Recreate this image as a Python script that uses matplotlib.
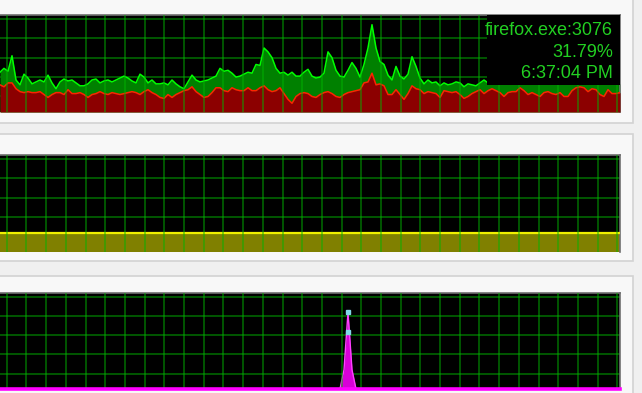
import matplotlib.pyplot as plt
import matplotlib.patches as patches
import numpy as np

# CPU history (percent), one sample every 4 screen pixels
cpu_total = [41, 45, 42, 58, 33, 28, 39, 35, 29, 31, 33, 31, 38, 30, 24, 31,
             34, 32, 33, 30, 27, 27, 29, 33, 34, 30, 32, 33, 31, 33, 35, 37,
             35, 32, 30, 39, 36, 30, 33, 29, 29, 30, 28, 33, 29, 26, 24, 31,
             38, 33, 31, 32, 33, 35, 37, 45, 42, 43, 40, 36, 37, 39, 41, 40,
             49, 48, 66, 62, 56, 45, 40, 41, 38, 41, 37, 37, 41, 44, 37, 35,
             36, 40, 62, 56, 43, 37, 36, 43, 51, 45, 36, 49, 66, 90, 66, 52,
             49, 38, 33, 47, 37, 34, 39, 57, 47, 35, 29, 33, 30, 31, 27, 30,
             28, 29, 31, 30, 26, 29, 28, 27, 30, 33, 30, 31, 30, 29, 31, 30,
             29, 31, 30, 30, 29, 31, 30, 29, 30, 31, 29, 30, 31, 30, 29, 30,
             31, 30, 29, 30, 31, 30, 29, 30, 30, 31, 30, 29]
cpu_kernel = [28, 26, 30, 30, 24, 21, 20, 21, 20, 20, 21, 18, 15, 18, 20, 20,
              18, 23, 19, 19, 20, 18, 15, 18, 19, 21, 19, 18, 20, 19, 18, 19,
              20, 21, 20, 18, 21, 23, 20, 18, 15, 14, 18, 15, 18, 20, 22, 23,
              26, 21, 18, 15, 16, 20, 25, 25, 22, 21, 25, 23, 22, 22, 25, 22,
              22, 25, 27, 23, 21, 22, 25, 19, 13, 9, 16, 19, 20, 19, 16, 15,
              18, 20, 21, 19, 16, 15, 18, 20, 21, 22, 23, 30, 31, 40, 28, 29,
              27, 18, 18, 23, 18, 13, 19, 27, 24, 23, 19, 21, 20, 19, 15, 22,
              21, 20, 21, 18, 14, 16, 19, 21, 23, 19, 22, 24, 22, 20, 16, 20,
              21, 21, 25, 22, 18, 20, 18, 16, 20, 21, 19, 18, 20, 16, 16, 22,
              25, 26, 25, 21, 24, 23, 18, 16, 23, 19, 19, 20]

# private bytes level (percent of graph height)
mem_level = 19.6

# I/O history (percent), a single burst
io_bytes = [0] * 86 + [20, 80, 20] + [0] * 67
io_marks = [80, 59]

proc_name = "firefox.exe:3076"
cpu_label = "31.79%"
time_label = "6:37:04 PM"

W, H = 642, 393
fig = plt.figure(figsize=(W / 100, H / 100), dpi=100)
fig.patch.set_facecolor('#f0f0f0')


def box(x0, y0, x1, y1):
    return [x0 / W, 1 - y1 / H, (x1 - x0) / W, (y1 - y0) / H]


# group box frames behind the graphs
for y0, y1 in [(-5, 123), (134, 261), (276, 400)]:
    r = patches.Rectangle((-5 / W, 1 - y1 / H), 638 / W, (y1 - y0) / H,
                          transform=fig.transFigure, facecolor='#f8f8f8',
                          edgecolor='#d2d2d2', lw=1.2, zorder=-5)
    fig.patches.append(r)

x = np.arange(len(cpu_total))
vgrid = (6.7 + 19.7 * np.arange(32)) / 4
hgrid = [16, 36, 56, 76, 96]


def setup(ax):
    ax.set_zorder(2)
    ax.set_facecolor('black')
    ax.set_xlim(0, len(x) - 1)
    ax.set_ylim(0, 100)
    ax.set_xticks([])
    ax.set_yticks([])
    for s in ['left', 'bottom']:
        ax.spines[s].set_visible(False)
    for s in ['top', 'right']:
        ax.spines[s].set_color('#707070')
        ax.spines[s].set_linewidth(1.2)
    for h in hgrid:
        ax.axhline(h, color='#006e00', lw=1.1, zorder=0.5)
    for v in vgrid:
        ax.axvline(v, color='#00b400', lw=1.1, alpha=0.6, zorder=5)


# CPU graph
ax1 = fig.add_axes(box(0, 15, 620, 112))
setup(ax1)
ax1.fill_between(x, 0, cpu_total, color='#008000', lw=0, zorder=1)
ax1.plot(x, cpu_total, color='#00ff00', lw=1.1, zorder=2)
ax1.fill_between(x, 0, cpu_kernel, color='#8c0000', lw=0, zorder=3)
ax1.plot(x, cpu_kernel, color='#ff2200', lw=1.1, zorder=4)
ax1.add_patch(patches.Rectangle((0.785, 0.278), 0.215, 0.722, transform=ax1.transAxes,
                                facecolor='black', edgecolor='none', zorder=6))
fnt = dict(family=['Liberation Sans Narrow', 'Liberation Sans'], size=13,
           color='#22d022', ha='right', va='baseline', transform=ax1.transAxes, zorder=7)
ax1.text(0.989, 0.794, proc_name, **fnt)
ax1.text(0.989, 0.567, cpu_label, **fnt)
ax1.text(0.989, 0.35, time_label, **fnt)

# private bytes graph
ax2 = fig.add_axes(box(0, 155, 620, 252))
setup(ax2)
ax2.fill_between(x, 0, mem_level, color='#808000', lw=0, zorder=1)
ax2.axhline(mem_level, color='#f0f000', lw=1.6, zorder=4)

# I/O graph
ax3 = fig.add_axes(box(0, 293, 620, 389))
setup(ax3)
ax3.fill_between(x, 0, io_bytes, color='#d800d8', lw=0, zorder=1)
ax3.plot(x, io_bytes, color='#ff40ff', lw=1.0, zorder=2)
ax3.plot([87, 87], io_marks, ls='none', marker='s', ms=2.5, color='#80d8e8', zorder=6)
ax3.axhline(0, color='#ff00ff', lw=2.6, zorder=7, clip_on=False)

fig.savefig('out.png', dpi=100, facecolor=fig.get_facecolor())
